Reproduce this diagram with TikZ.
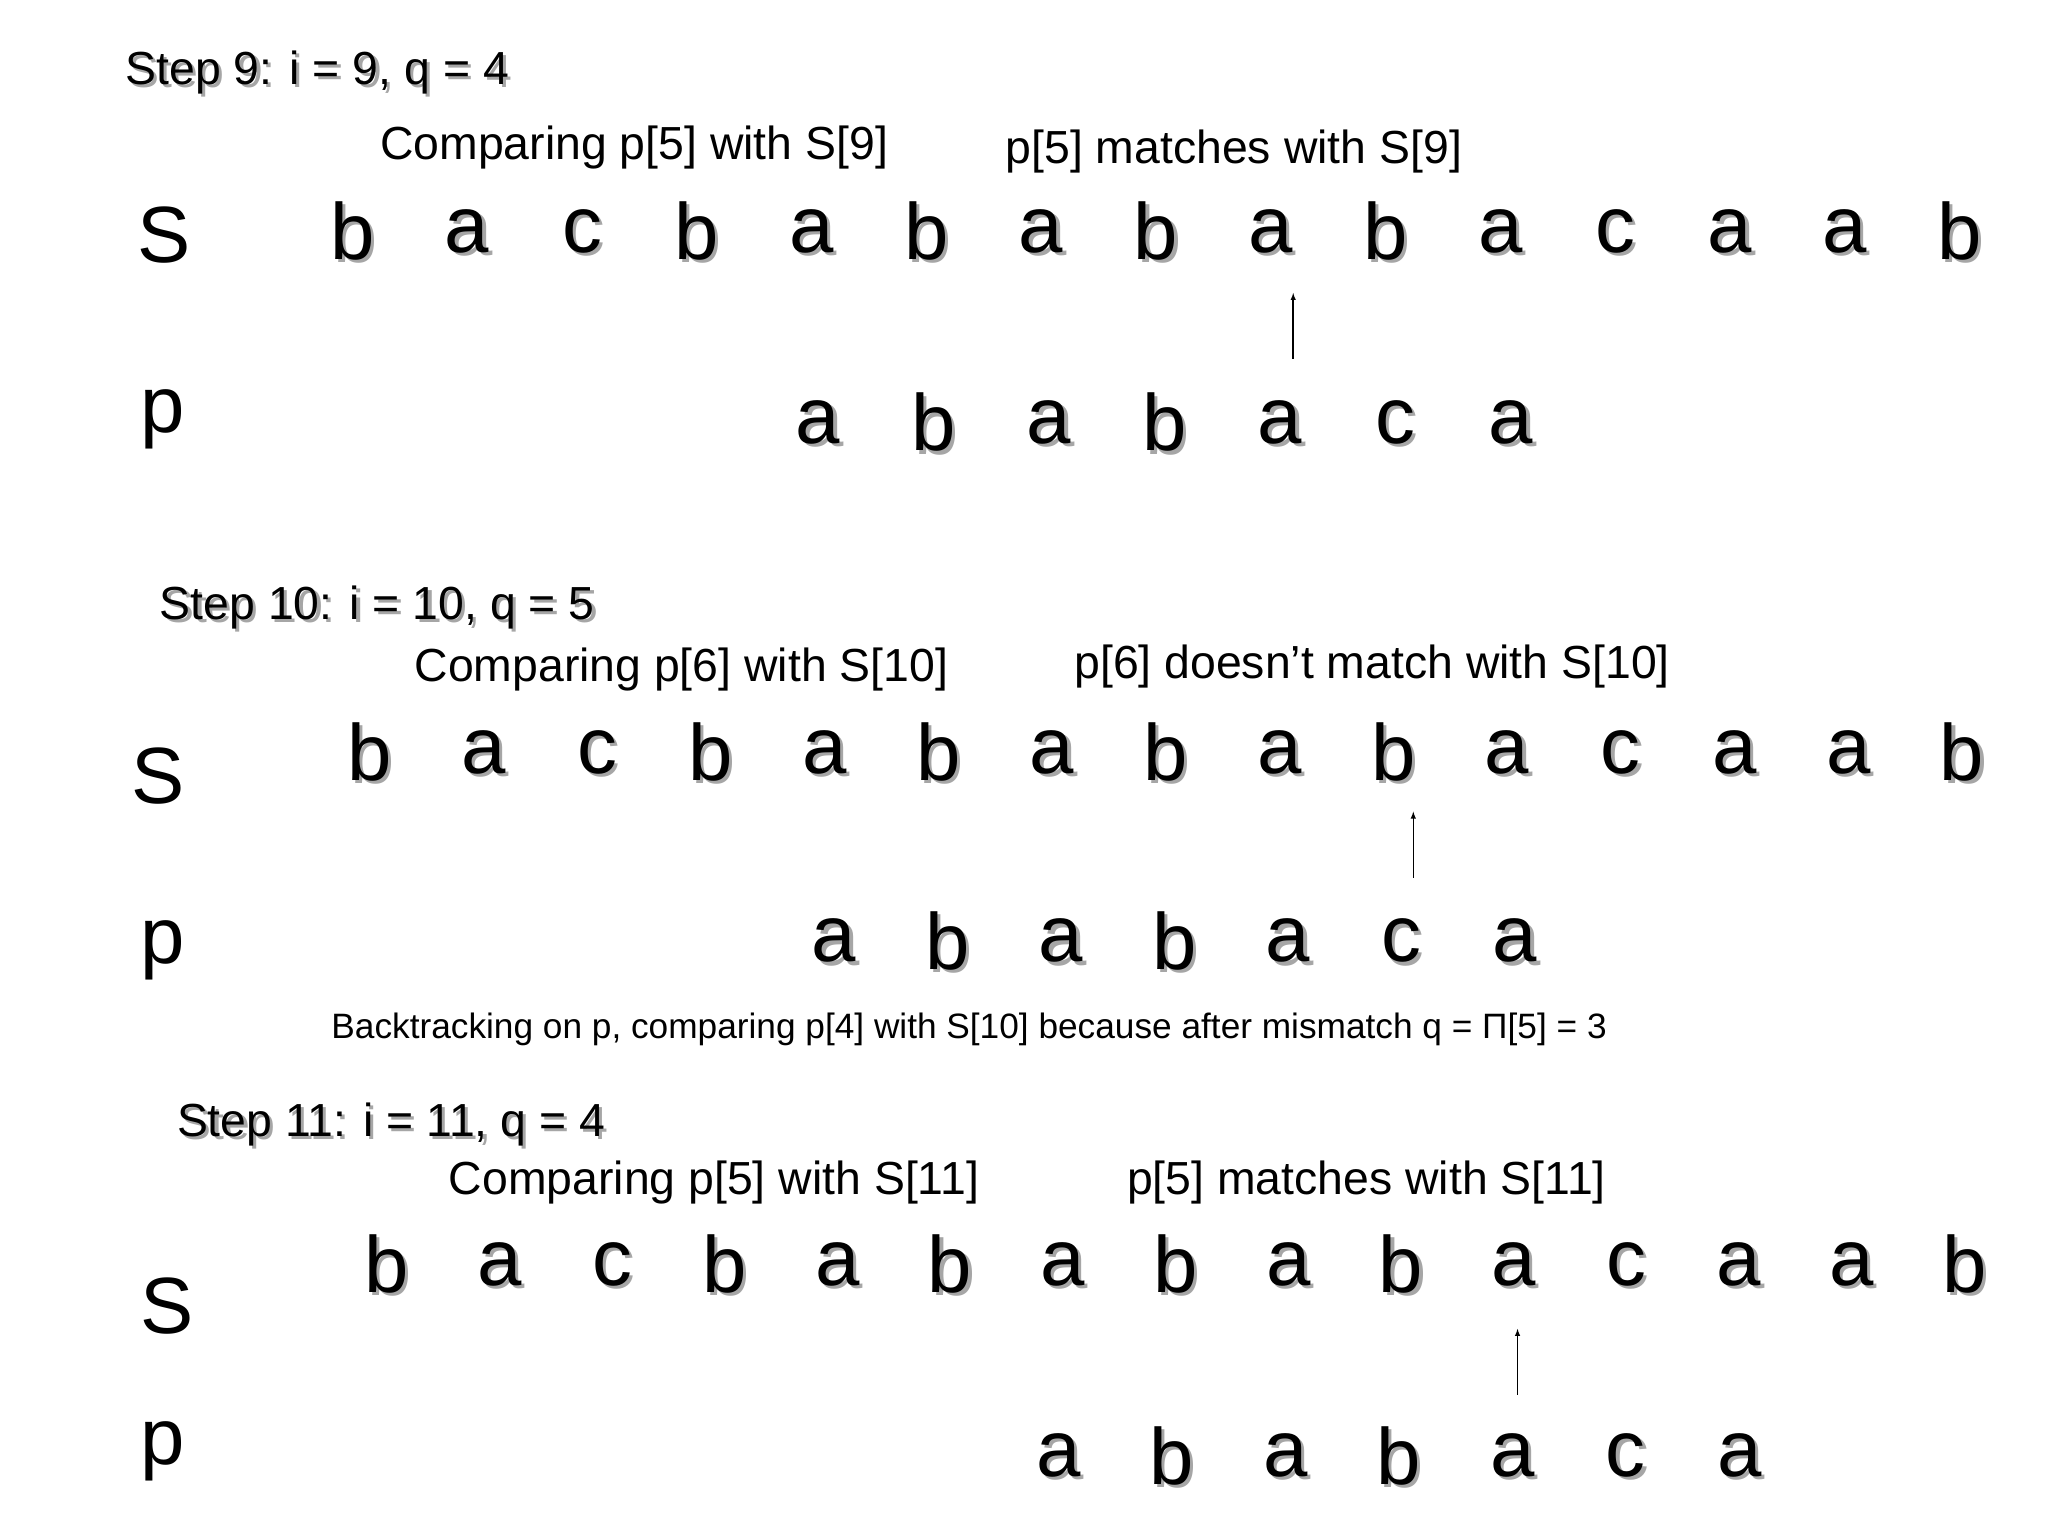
\documentclass[tikz,border=0pt]{standalone}
\usepackage{fontspec}
\setmainfont{Liberation Sans}
\usetikzlibrary{calc}
\begin{document}
\begin{tikzpicture}[x=0.05cm,y=-0.05cm,
  big/.style={font=\fontsize{86}{90}\selectfont,inner sep=0pt},
  lab/.style={font=\fontsize{50}{54}\selectfont,inner sep=0pt,anchor=west},
  small/.style={font=\fontsize{38}{42}\selectfont,inner sep=0pt,anchor=west},
  arr/.style={-latex,line width=1.6pt}]
\useasboundingbox (0,0) rectangle (1552,1164);
\newcommand\shtxt[4]{\node[#1,text=black!35] at ($(#2,#3)+(2.5,2.5)$) {#4};\node[#1] at (#2,#3) {#4};}
\newcommand\row[4]{\foreach \ch [count=\k from 0] in {#4} {\shtxt{big}{#1+\k*#3}{#2}{\ch}}}
% step 9
\shtxt{lab}{95}{55}{Step 9: i = 9, q = 4}
\node[lab] (c1) at (288,112) {Comparing p[5] with S[9]};
\node[lab] (m1) at (762,115) {p[5] matches with S[9]};
\node[big] (S1) at (124,178) {S};
\node[big] (P1) at (123,318) {p};
\row{267}{175}{87}{b,a,c,b,a,b,a,b,a,b,a,c,a,a,b}
\row{620}{320}{87.5}{a,b,a,b,a,c,a}
\coordinate (a1s) at (980,272); \coordinate (a1e) at (980,222);
\draw[arr] (a1s) -- (a1e);
% step 10
\shtxt{lab}{121}{460}{Step 10: i = 10, q = 5}
\node[lab] (c2) at (314,507) {Comparing p[6] with S[10]};
\node[lab] (m2) at (814,505) {p[6] doesn’t match with S[10]};
\node[big] (S2) at (120,588) {S};
\node[big] (P2) at (123,720) {p};
\row{280}{570}{86.2}{b,a,c,b,a,b,a,b,a,b,a,c,a,a,b}
\row{632}{713}{86}{a,b,a,b,a,c,a}
\coordinate (a2s) at (1071,665); \coordinate (a2e) at (1071,615);
\draw[arr] (a2s) -- (a2e);
\node[small] (bt) at (251,780) {Backtracking on p, comparing p[4] with S[10] because after mismatch q = Π[5] = 3};
% step 11
\shtxt{lab}{134}{852}{Step 11: i = 11, q = 4}
\node[lab] (c3) at (340,896) {Comparing p[5] with S[11]};
\node[lab] (m3) at (854,896) {p[5] matches with S[11]};
\node[big] (S3) at (127,990) {S};
\node[big] (P3) at (123,1100) {p};
\row{293}{958}{85.4}{b,a,c,b,a,b,a,b,a,b,a,c,a,a,b}
\row{802}{1103}{86}{a,b,a,b,a,c,a}
\coordinate (a3s) at (1150,1057); \coordinate (a3e) at (1150,1007);
\draw[arr] (a3s) -- (a3e);
\end{tikzpicture}
\end{document}
